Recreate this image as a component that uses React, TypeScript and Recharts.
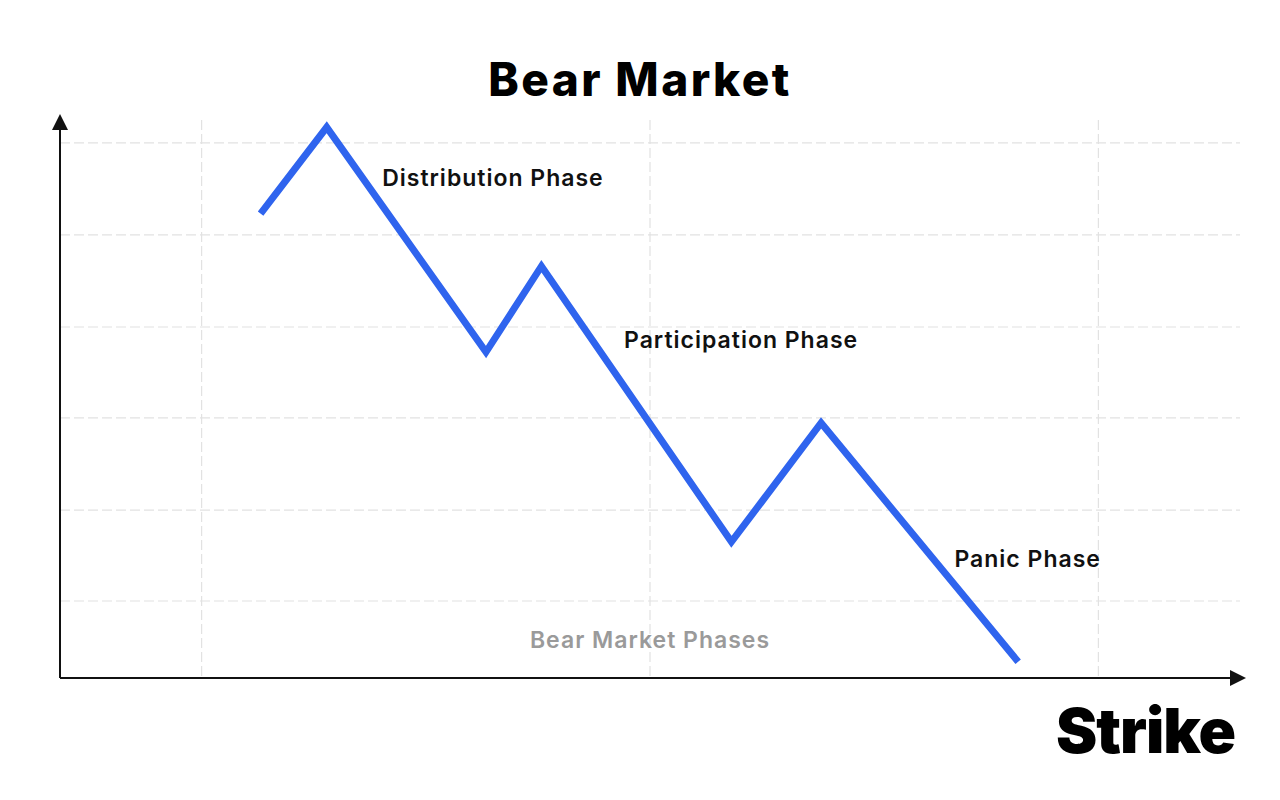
import React from 'react';
import { LineChart, Line, XAxis, YAxis, CartesianGrid, ReferenceDot } from 'recharts';

const xs = [17.0, 22.6, 36.1, 40.8, 56.9, 64.5, 81.2];
const prices = [83.2, 98.7, 58.4, 73.8, 24.4, 45.7, 2.9];
const xTicks = [12, 50, 88];
const yTicks = [13.8, 30.1, 46.6, 62.9, 79.4, 95.9];
const labelTexts = ['Distribution Phase', 'Participation Phase', 'Panic Phase', 'Bear Market Phases'];
const labelX = [27.3, 47.8, 75.8, 50];
const labelY = [89.6, 60.6, 21.3, 6.8];
const labelColors = ['#111111', '#111111', '#111111', '#9a9a9a'];
const labelAnchors = ['start', 'start', 'start', 'middle'];

const data = xs.map((x, i) => ({ x, price: prices[i] }));

const FONT = 'Inter, "Open Sans", sans-serif';

const NoTick = () => <g />;

const scaleOf = (axis: any) => {
  const s = axis && axis.scale;
  if (!s) return null;
  if (typeof s === 'function') return s;
  if (typeof s.map === 'function') return (v: number) => s.map(v);
  return null;
};

export default function App() {
  return (
    <div style={{ position: 'absolute', left: 0, top: 0, width: 1280, height: 800, background: '#fff', fontFamily: FONT }}>
      <div style={{ position: 'absolute', left: 0, top: 51, width: 1280, textAlign: 'center', fontSize: 46, fontWeight: 800, color: '#000', lineHeight: '56px', letterSpacing: 2.4 }}>
        Bear Market
      </div>
      <LineChart width={1280} height={800} data={data} margin={{ top: 120, right: 40, bottom: 121, left: 59 }}>
        <defs>
          <marker id="arrowHead" viewBox="0 0 16 16" refX={10} refY={8} markerWidth={16} markerHeight={16} markerUnits="userSpaceOnUse" orient="auto-start-reverse">
            <path d="M0,0 L16,8 L0,16 z" fill="#111" />
          </marker>
        </defs>
        <CartesianGrid
          stroke="#e2e2e2"
          strokeDasharray="10 4"
          strokeWidth={1.2}
          horizontalCoordinatesGenerator={(p: any) => {
            const s = scaleOf(p.yAxis);
            return s ? yTicks.map((t) => s(t)) : [];
          }}
          verticalCoordinatesGenerator={(p: any) => {
            const s = scaleOf(p.xAxis);
            return s ? xTicks.map((t) => s(t)) : [];
          }}
        />
        <XAxis
          type="number"
          dataKey="x"
          domain={[0, 100]}
          ticks={xTicks}
          tick={<NoTick />}
          tickLine={false}
          height={1}
          axisLine={{ stroke: '#111', strokeWidth: 2, markerEnd: 'url(#arrowHead)' }}
        />
        <YAxis
          type="number"
          domain={[0, 100]}
          ticks={yTicks}
          tick={<NoTick />}
          tickLine={false}
          width={1}
          axisLine={{ stroke: '#111', strokeWidth: 2, markerStart: 'url(#arrowHead)' }}
        />
        <Line
          type="linear"
          dataKey="price"
          stroke="#2f64ee"
          strokeWidth={7}
          dot={false}
          activeDot={false}
          isAnimationActive={false}
          strokeLinejoin="miter"
          strokeLinecap="butt"
        />
        {labelTexts.map((t, i) => (
          <ReferenceDot
            key={t}
            x={labelX[i]}
            y={labelY[i]}
            r={0}
            ifOverflow="visible"
            shape={(p: any) => (
              <text
                x={p.cx}
                y={p.cy}
                textAnchor={labelAnchors[i] as any}
                dominantBaseline="central"
                fontFamily={FONT}
                fontSize={23}
                fontWeight={600}
                letterSpacing={1}
                fill={labelColors[i]}
              >
                {t}
              </text>
            )}
          />
        ))}
      </LineChart>
      <div style={{ position: 'absolute', left: 1056, top: 693, fontSize: 62, fontWeight: 900, color: '#000', lineHeight: '76px', letterSpacing: -1 }}>
        Strike
      </div>
    </div>
  );
}
